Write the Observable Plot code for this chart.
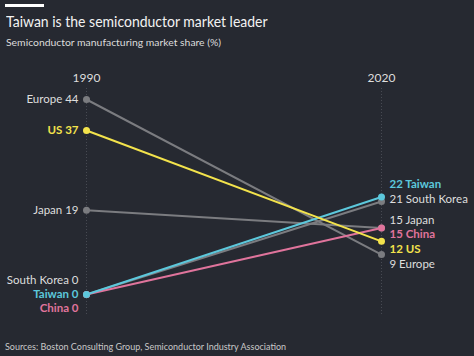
<!DOCTYPE html>
<html><head><meta charset="utf-8">
<script src="https://cdn.jsdelivr.net/npm/d3@7"></script>
<script src="https://cdn.jsdelivr.net/npm/@observablehq/plot@0.6"></script>
<style>
html,body{margin:0;padding:0;background:#262931;width:474px;height:356px;overflow:hidden;font-family:Lato,"Open Sans",sans-serif;}
#bar{position:absolute;left:5px;top:4px;width:39px;height:3px;background:#fff;}
#title{position:absolute;left:6px;top:12px;font-size:14px;line-height:18px;color:#f2f2f2;white-space:nowrap;transform:scaleY(1.1);transform-origin:left top;}
#sub{position:absolute;left:6px;top:36px;font-size:10.4px;color:#dcdcdc;white-space:nowrap;}
#chart{position:absolute;left:0;top:60px;}
#src{position:absolute;left:5px;top:341px;font-size:9px;color:#c8c8c8;white-space:nowrap;}
</style></head>
<body>
<div id="bar"></div>
<div id="title">Taiwan is the semiconductor market leader</div>
<div id="sub">Semiconductor manufacturing market share (%)</div>
<div id="chart"></div>
<div id="src">Sources: Boston Consulting Group, Semiconductor Industry Association</div>
<script>
const years = [1990, 2020];
const countries = ["Europe", "Japan", "South Korea", "China", "Taiwan", "US"];
const share1990 = [44, 19, 0, 0, 0, 37];
const share2020 = [9, 15, 21, 15, 22, 12];

const colour = {Europe:"#7b7c80", Japan:"#7b7c80", "South Korea":"#7b7c80", China:"#e0749c", Taiwan:"#5cc8dc", US:"#f3e34c"};
const labelColour = {Europe:"#dedede", Japan:"#dedede", "South Korea":"#dedede", China:"#e0749c", Taiwan:"#5cc8dc", US:"#f3e34c"};
const highlighted = new Set(["China","Taiwan","US"]);
const dyLeft = {Europe:0, Japan:0, US:0, "South Korea":-14, Taiwan:0, China:14};
const dyRight = {Taiwan:-13, "South Korea":-2, Japan:-8, China:6, US:8, Europe:10};

const rows = [];
countries.forEach((c, i) => {
  rows.push({country:c, year:years[0], share:share1990[i]});
  rows.push({country:c, year:years[1], share:share2020[i]});
});
const left = rows.filter(d => d.year === years[0]);
const right = rows.filter(d => d.year === years[1]);

function offsetLabels(data, side) {
  const dy = side === "left" ? dyLeft : dyRight;
  return data.map(d => Plot.text([d], {
    x: "year", y: "share",
    text: e => side === "left" ? `${e.country} ${e.share}` : `${e.share} ${e.country}`,
    fill: labelColour[d.country],
    textAnchor: side === "left" ? "end" : "start",
    dx: side === "left" ? -8 : 8,
    dy: dy[d.country],
    fontSize: 11.5,
    fontWeight: highlighted.has(d.country) ? "bold" : "normal"
  }));
}

const chart = Plot.plot({
  width: 474, height: 270,
  marginLeft: 86, marginRight: 93, marginTop: 39, marginBottom: 36,
  style: {background: "transparent", fontFamily: "Lato, 'Open Sans', sans-serif"},
  x: {domain: years, label: null},
  y: {domain: [0, 44], axis: null},
  color: {type: "identity"},
  marks: [
    Plot.ruleX(years, {y1: -4.5, y2: 46.5, stroke: "#4a4d55", strokeDasharray: "1,2"}),
    Plot.axisX({anchor: "top", ticks: years, tickSize: 0, tickPadding: 18, tickFormat: d => String(d), fontSize: 12, color: "#dedede", label: null}),
    Plot.line(rows, {x: "year", y: "share", z: "country", stroke: d => colour[d.country], strokeWidth: 2}),
    Plot.dot(rows, {x: "year", y: "share", fill: d => colour[d.country], r: 3.5}),
    ...offsetLabels(left, "left"),
    ...offsetLabels(right, "right")
  ]
});
document.getElementById("chart").append(chart);
</script>
</body></html>
